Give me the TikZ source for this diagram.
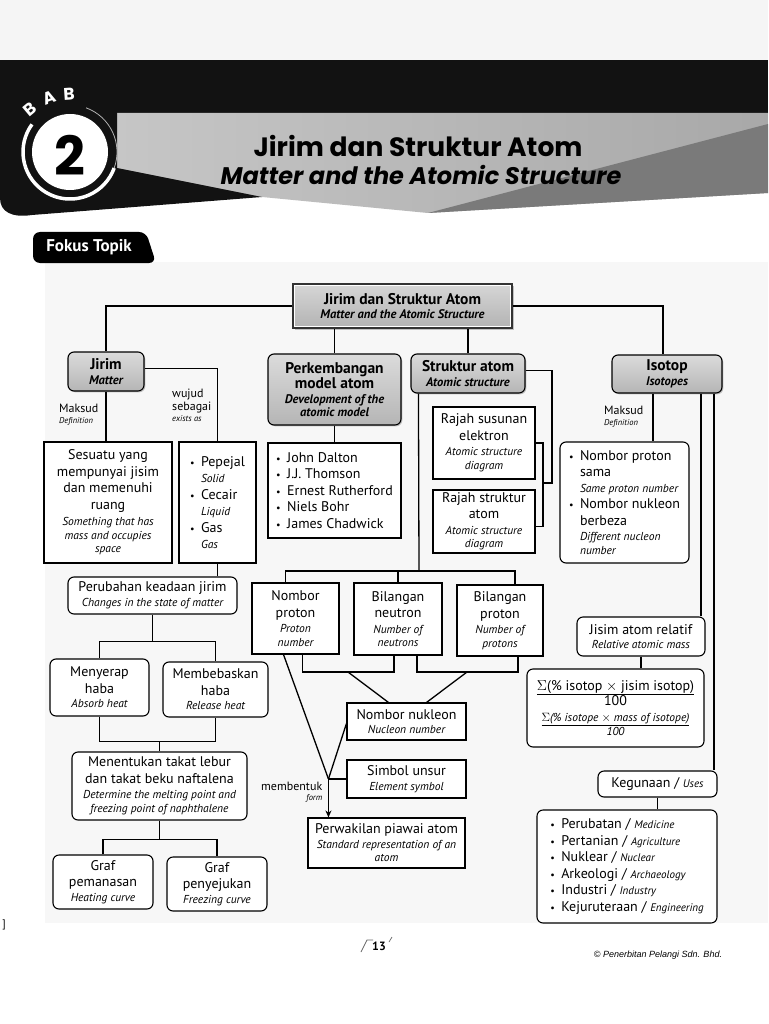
\documentclass[tikz,border=0pt]{standalone}
\usepackage{fontspec}
\setmainfont{PT Sans}
\newfontfamily\headfont{Poppins}
\newfontfamily\arialfont{Liberation Sans}
\usetikzlibrary{shadows,arrows.meta}
\newcommand\M{\fontsize{14}{16.5}\selectfont}
\newcommand\Sm{\fontsize{11.5}{13.5}\selectfont\itshape}
\newcommand\Su{\fontsize{11}{13}\selectfont\itshape}
\newcommand\Hd{\fontsize{15.5}{17}\selectfont\bfseries}
\newcommand\SmB{\fontsize{12.5}{14}\selectfont\bfseries\itshape}
\newcommand\bu{\makebox[11pt][l]{\fontsize{10}{10}\selectfont\textbullet}}
\newcommand\ind{\hspace*{11pt}}
\begin{document}
\begin{tikzpicture}[x=1pt,y=-1pt,
  conn/.style={line width=1.3pt},
  base/.style={draw=black, line width=1.1pt, align=center, font=\M, inner sep=2pt},
  gbox/.style={base, rounded corners=6pt, top color=gray!28, bottom color=gray!58,
     drop shadow={shadow xshift=1.3pt, shadow yshift=-1.3pt, fill=black!45}},
  gtop/.style={base, top color=gray!32, bottom color=gray!60, draw=black!80, line width=1.5pt,
     drop shadow={shadow xshift=1.5pt, shadow yshift=-1.5pt, fill=black!45}},
  wbox/.style={base, fill=white},
  rbox/.style={base, fill=white, rounded corners=6pt},
  sz/.style 2 args={minimum width=#1pt, minimum height=#2pt},
  lbl/.style={font=\fontsize{12}{13}\selectfont, align=left, inner sep=0pt},
  babl/.style={font=\headfont\bfseries\fontsize{17}{17}\selectfont, text=white, inner sep=0pt},
]
\useasboundingbox (0,0) rectangle (768,1024);
% ---------- page background ----------
\fill[white] (0,0) rectangle (768,1024);
\fill[gray!8] (0,0) rectangle (768,60);
\fill[gray!6] (45,262) rectangle (768,923);
% ---------- header ----------
\fill[black!93] (0,60) rectangle (768,115);
\shade[left color=black!22, right color=black!34] (95,113) -- (768,113) -- (768,193) -- (428,213) -- (262,197) -- (95,165) -- cycle;
\fill[black!52] (428,213) -- (768,124) -- (768,193) -- cycle;
\fill[black!93] (0,112) -- (0,198) .. controls (0,212) and (12,218) .. (32,215) -- (262,197) -- (117,168) -- (117,112) -- cycle;
\fill[white] (70,152) circle[radius=38];
\draw[white, line width=3.5pt] (70,152) ++(-144:47) arc[start angle=-144, end angle=-340, radius=47];
\draw[gray!60, line width=0.8pt] (70,152) ++(-70:47) arc[start angle=-70, end angle=20, radius=47];
\node[font=\headfont\bfseries\fontsize{54}{54}\selectfont, text=black] (two) at (70,155) {2};
\node[babl, rotate=40] (bab1) at (30,109) {B};
\node[babl, rotate=20] (bab2) at (49,98) {A};
\node[babl, rotate=4] (bab3) at (69,94) {B};
\node[font=\headfont\bfseries\fontsize{26.5}{28}\selectfont] (title) at (418,146) {Jirim dan Struktur Atom};
\node[font=\headfont\bfseries\itshape\fontsize{24}{26}\selectfont] (subtitle) at (421,175) {Matter and the Atomic Structure};
% Fokus Topik tab
\fill[black, rounded corners=7pt] (33,263) -- (33,232) -- (146,232) -- (156,263) -- cycle;
\node[font=\bfseries\fontsize{17}{18}\selectfont, text=white] (fokus) at (89,247) {Fokus Topik};
% ---------- nodes ----------
\node[gtop, sz={219}{44}] (top) at (402.5,306) {{\Hd Jirim dan Struktur Atom}\\[-2pt]{\SmB Matter and the Atomic Structure}};
\draw[white, line width=0.8pt] ([shift={(2.2pt,-2.2pt)}]top.north west) rectangle ([shift={(-2.2pt,2.2pt)}]top.south east);
\node[gbox, sz={76}{39}] (jirim) at (106,371.5) {{\Hd Jirim}\\[-2pt]{\SmB Matter}};
\node[gbox, sz={133}{71}] (perk) at (334.5,389.5) {{\Hd Perkembangan}\\[-1pt]{\Hd model atom}\\[-2pt]{\SmB Development of the}\\[-3pt]{\SmB atomic model}};
\node[gbox, sz={114}{39}] (struk) at (468,373.5) {{\Hd Struktur atom}\\[-2pt]{\SmB Atomic structure}};
\node[gbox, sz={110}{38}] (isotop) at (667,374) {{\Hd Isotop}\\[-2pt]{\SmB Isotopes}};

\node[wbox, sz={128}{121}] (sesuatu) at (108,502.5) {Sesuatu yang\\mempunyai jisim\\dan memenuhi\\ruang\\{\Sm Something that has}\\[-3pt]{\Sm mass and occupies}\\[-3pt]{\Sm space}};
\node[wbox, sz={77}{121}, align=left] (pepejal) at (217.5,502.5) {\bu Pepejal\\\ind{\Sm Solid}\\\bu Cecair\\\ind{\Sm Liquid}\\\bu Gas\\\ind{\Sm Gas}};
\node[wbox, sz={133}{95}, align=left] (dalton) at (334.5,490.5) {\bu John Dalton\\\bu J.J. Thomson\\\bu Ernest Rutherford\\\bu Niels Bohr\\\bu James Chadwick};
\node[wbox, sz={102}{72}] (rajah1) at (484,443) {Rajah susunan\\elektron\\[-1pt]{\Sm Atomic structure}\\[-3pt]{\Sm diagram}};
\node[wbox, sz={102}{63}] (rajah2) at (484,521.5) {Rajah struktur\\atom\\[-1pt]{\Sm Atomic structure}\\[-3pt]{\Sm diagram}};
\node[rbox, sz={129}{121}, align=left] (sama) at (624.5,502.5) {\bu Nombor proton\\\ind sama\\[-1pt]\ind{\Sm Same proton number}\\\bu Nombor nukleon\\\ind berbeza\\[-1pt]\ind{\Sm Different nucleon}\\[-3pt]\ind{\Sm number}};

\node[rbox, sz={169}{37}] (perubahan) at (152.5,595.5) {Perubahan keadaan jirim\\[-2pt]{\Sm Changes in the state of matter}};
\node[wbox, sz={87}{71}] (np) at (295.5,618.5) {Nombor\\proton\\[-1pt]{\Sm Proton}\\[-3pt]{\Sm number}};
\node[wbox, sz={88}{72}] (bn) at (398,619) {Bilangan\\neutron\\[-1pt]{\Sm Number of}\\[-3pt]{\Sm neutrons}};
\node[wbox, sz={86}{71}] (bp) at (500,620.5) {Bilangan\\proton\\[-1pt]{\Sm Number of}\\[-3pt]{\Sm protons}};
\node[rbox, sz={128}{39}] (jisim) at (641,636.5) {Jisim atom relatif\\[-2pt]{\Sm Relative atomic mass}};
\node[rbox, sz={99}{57}] (menyerap) at (99.5,687.5) {Menyerap\\haba\\[-2pt]{\Sm Absorb heat}};
\node[rbox, sz={105}{55}] (membeb) at (215.5,689.5) {Membebaskan\\haba\\[-2pt]{\Sm Release heat}};
\node[wbox, sz={119}{37}] (nukleon) at (406.5,721.5) {Nombor nukleon\\[-2pt]{\Sm Nucleon number}};
\node[rbox, sz={177}{78}] (formula) at (615.5,708) {\underline{$\Sigma$(\% isotop $\times$ jisim isotop)}\\[-1pt]100\\[-1pt]{\Sm\underline{$\Sigma$(\% isotope $\times$ mass of isotope)}}\\[-2pt]{\Sm 100}};
\node[rbox, sz={175}{68}] (menentukan) at (159.5,786) {Menentukan takat lebur\\dan takat beku naftalena\\[-1pt]{\Sm Determine the melting point and}\\[-3pt]{\Sm freezing point of naphthalene}};
\node[wbox, sz={119}{38}] (simbol) at (406.5,779) {Simbol unsur\\[-2pt]{\Sm Element symbol}};
\node[rbox, sz={119}{26}] (kegunaan) at (657.5,784) {Kegunaan / {\Su Uses}};
\node[wbox, sz={157}{50}] (perwakilan) at (386.5,843) {Perwakilan piawai atom\\[-2pt]{\Sm Standard representation of an}\\[-3pt]{\Sm atom}};
\node[rbox, sz={180}{113}, align=left] (uses) at (627,866.5) {\bu Perubatan / {\Su Medicine}\\\bu Pertanian / {\Su Agriculture}\\\bu Nuklear / {\Su Nuclear}\\\bu Arkeologi / {\Su Archaeology}\\\bu Industri / {\Su Industry}\\\bu Kejuruteraan / {\Su Engineering}};
\node[rbox, sz={100}{54}] (graf1) at (103,882) {Graf\\pemanasan\\[-2pt]{\Sm Heating curve}};
\node[rbox, sz={100}{54}] (graf2) at (217,884) {Graf\\penyejukan\\[-2pt]{\Sm Freezing curve}};

% ---------- labels ----------
\node[lbl, anchor=west] (lm1) at (59,415) {Maksud\\[-2pt]{\fontsize{8.5}{10}\selectfont\itshape Definition}};
\node[lbl, anchor=west] (lw) at (172,405) {wujud\\sebagai\\[-2pt]{\fontsize{8.5}{10}\selectfont\itshape exists as}};
\node[lbl, anchor=west] (lm2) at (604,417) {Maksud\\[-2pt]{\fontsize{8.5}{10}\selectfont\itshape Definition}};

% ---------- connectors ----------
\begin{scope}[conn]
\draw (top.west) -| (jirim.north);
\draw (top.east) -| ([xshift=-4pt]isotop.north);
\draw (perk.north |- top.south) -- (perk.north);
\draw (struk.north |- top.south) -- (struk.north);
\draw (jirim.south) -- (jirim.south |- sesuatu.north);
\draw ([yshift=3pt]jirim.east) -| (pepejal.north);
\draw (perk.south) -- (perk.south |- dalton.north);
% struktur atom brackets
\coordinate (ib) at (543,483);
\coordinate (ob) at (552,483);
\draw (rajah1.east) -| (ib) |- ([yshift=-5pt]rajah2.east);
\draw ([yshift=3pt]struk.east) -| (ob) -- (ib);
% struktur atom to particles
\coordinate (sj) at (419,571);
\draw ([xshift=8pt]struk.south west) -- (sj);
\draw ([xshift=-10pt]np.north) |- (sj) -| ([xshift=15pt]bp.north);
\draw (bn.north) -- (bn.north |- sj);
% nucleon brackets
\coordinate (m1) at (348,672);
\coordinate (m2) at (467,672);
\draw ([xshift=7pt]np.south) |- (m1) -| ([xshift=-4pt]bn.south);
\draw ([xshift=19pt]bn.south) |- (m2) -| ([xshift=18pt]bp.south);
\draw (m1) -- ([xshift=-18pt]nukleon.north);
\draw (m2) -- ([xshift=20pt]nukleon.north);
% formation
\coordinate (jf) at ([xshift=-18pt]simbol.west);
\draw ([xshift=-12pt]np.south) -- (jf);
\draw ([yshift=-2pt]nukleon.west) -- (jf);
\draw (simbol.west) -- (jf);
\draw[-{Stealth[length=7pt,width=6pt]}] (jf) -- (jf |- perwakilan.north);
% left column
\draw (pepejal.south) -- (pepejal.south |- perubahan.north);
\coordinate (j1) at ([yshift=-27pt]perubahan.south);
\draw (perubahan.south) -- (j1);
\draw (menyerap.north) |- (j1) -| (membeb.north);
\coordinate (j2) at ([yshift=10pt]menentukan.north);
\draw (menyerap.south) |- (j2) -| (membeb.south);
\draw (j2) -- (menentukan.north);
\coordinate (j3) at ([yshift=-19pt]menentukan.south);
\draw (menentukan.south) -- (j3);
\draw (graf1.north) |- (j3) -| (graf2.north);
% right column
\draw ([xshift=-14pt]isotop.south) -- ([xshift=-14pt]isotop.south |- sama.north);
\draw ([xshift=34pt]isotop.south) -- ([xshift=34pt]isotop.south |- jisim.north);
\draw ([xshift=47pt]isotop.south) -- ([xshift=47pt]isotop.south |- kegunaan.north);
\draw (jisim.south) -- (jisim.south |- formula.north);
\draw (kegunaan.south) -- (kegunaan.south |- uses.north);
\end{scope}
\node[lbl, align=right, anchor=east] (lform) at ([xshift=-6pt,yshift=-13pt]jf) {membentuk\\[-3pt]{\fontsize{8.5}{10}\selectfont\itshape form}};

% ---------- footer ----------
\draw[black!60, line width=0.7pt] (361,952) -- (367,940) -- (373,940);
\draw[black!60, line width=0.7pt] (389,942) -- (392,937);
\node[font=\bfseries\fontsize{12}{13}\selectfont] (pg) at (379,946) {13};
\node[font=\arialfont\itshape\fontsize{9}{10}\selectfont] (copy) at (658,955) {\textcopyright{} Penerbitan Pelangi Sdn. Bhd.};
\node[font=\fontsize{11}{12}\selectfont] (brk) at (4,925) {]};
\end{tikzpicture}
\end{document}
